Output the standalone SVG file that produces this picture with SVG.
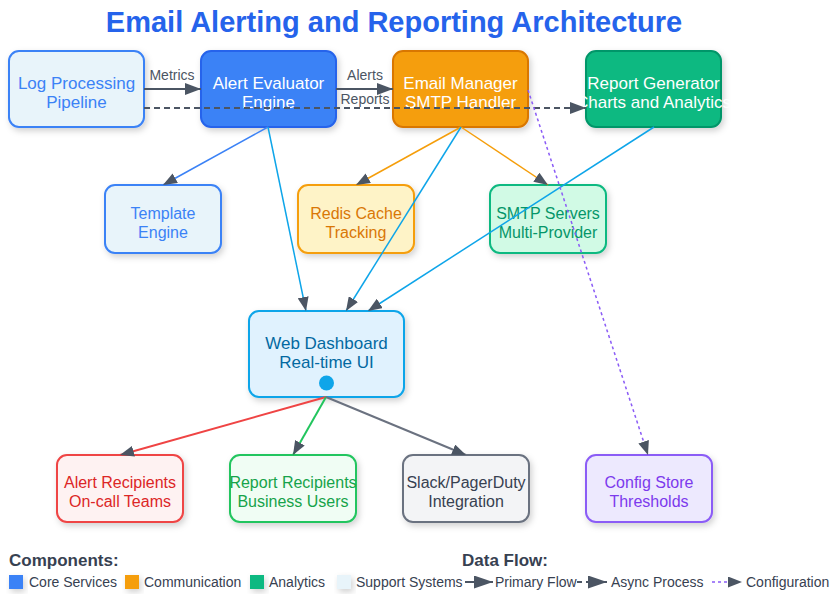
<svg xmlns="http://www.w3.org/2000/svg" width="835" height="604" viewBox="0 0 835 604">
<style>
text{font-family:"Liberation Sans",Arial,sans-serif}
.t{font-size:17px;text-anchor:middle}
.s{font-size:16px}
.lbl{font-size:14px;fill:#4b5563;text-anchor:middle}
.lg{font-size:14px;fill:#374151}
.lh{font-size:17px;font-weight:bold;fill:#374151}
.n{stroke-width:2}
</style>
<defs>
<filter id="sh" x="-20%" y="-20%" width="150%" height="150%"><feDropShadow dx="2" dy="3" stdDeviation="3" flood-color="#000" flood-opacity="0.18"/></filter>
<marker id="ah" markerUnits="userSpaceOnUse" markerWidth="16" markerHeight="12" viewBox="0 0 16 12" refX="16" refY="6" orient="auto"><path d="M0,0 L16,6 L0,12 z" fill="#4b5563"/></marker>
<marker id="ahs" markerUnits="userSpaceOnUse" markerWidth="14" markerHeight="11" viewBox="0 0 14 11" refX="14" refY="5.5" orient="auto"><path d="M0,0 L14,5.5 L0,11 z" fill="#4b5563"/></marker>
<marker id="ahl" markerUnits="userSpaceOnUse" markerWidth="19" markerHeight="13" viewBox="0 0 19 13" refX="19" refY="6.5" orient="auto"><path d="M0,0 L19,6.5 L0,13 z" fill="#4b5563"/></marker>
</defs>
<rect width="835" height="604" fill="#fff"/>
<text x="394" y="32" font-size="29" font-weight="bold" fill="#2563eb" text-anchor="middle">Email Alerting and Reporting Architecture</text>

<g id="log-pipeline"><rect x="9" y="51" width="135" height="76" rx="10" fill="#e8f4fa" stroke="#3b82f6" class="n" filter="url(#sh)"/><text class="t" x="76.5" y="89" fill="#3b82f6">Log Processing</text><text class="t" x="76.5" y="108" fill="#3b82f6">Pipeline</text></g>
<g id="alert-evaluator"><rect x="201" y="51" width="135" height="76" rx="10" fill="#3b82f6" stroke="#2563eb" class="n" filter="url(#sh)"/><text class="t" x="268.5" y="89" fill="#fff">Alert Evaluator</text><text class="t" x="268.5" y="108" fill="#fff">Engine</text></g>
<g id="email-manager"><rect x="393" y="51" width="135" height="76" rx="10" fill="#f59e0b" stroke="#d97706" class="n" filter="url(#sh)"/><text class="t" x="460.5" y="89" fill="#fff">Email Manager</text><text class="t" x="460.5" y="108" fill="#fff">SMTP Handler</text></g>
<g id="report-generator"><rect x="586" y="51" width="135" height="76" rx="10" fill="#10b981" stroke="#059669" class="n" filter="url(#sh)"/><text class="t" x="653.5" y="89" fill="#fff">Report Generator</text><text class="t" x="653.5" y="108" fill="#fff">Charts and Analytics</text></g>

<g id="template-engine"><rect x="105" y="185" width="116" height="68" rx="10" fill="#e8f4fa" stroke="#3b82f6" class="n" filter="url(#sh)"/><text class="t s" x="163" y="219" fill="#3b82f6">Template</text><text class="t s" x="163" y="238" fill="#3b82f6">Engine</text></g>
<g id="redis-cache"><rect x="298" y="185" width="116" height="68" rx="10" fill="#fef3c7" stroke="#f59e0b" class="n" filter="url(#sh)"/><text class="t s" x="356" y="219" fill="#d97706">Redis Cache</text><text class="t s" x="356" y="238" fill="#d97706">Tracking</text></g>
<g id="smtp-servers"><rect x="490" y="185" width="116" height="68" rx="10" fill="#d1fae5" stroke="#10b981" class="n" filter="url(#sh)"/><text class="t s" x="548" y="219" fill="#059669">SMTP Servers</text><text class="t s" x="548" y="238" fill="#059669">Multi-Provider</text></g>

<g id="web-dashboard"><rect x="249" y="311" width="155" height="86" rx="10" fill="#e0f2fe" stroke="#0ea5e9" class="n" filter="url(#sh)"/><text class="t" x="326.5" y="349" fill="#0369a1">Web Dashboard</text><text class="t" x="326.5" y="368" fill="#0369a1">Real-time UI</text><circle cx="326.5" cy="383" r="7.5" fill="#0ea5e9"/></g>

<g id="alert-recipients"><rect x="57" y="455" width="126" height="67" rx="10" fill="#fef2f2" stroke="#ef4444" class="n" filter="url(#sh)"/><text class="t s" x="120" y="488" fill="#dc2626">Alert Recipients</text><text class="t s" x="120" y="507" fill="#dc2626">On-call Teams</text></g>
<g id="report-recipients"><rect x="230" y="455" width="126" height="67" rx="10" fill="#f0fdf4" stroke="#22c55e" class="n" filter="url(#sh)"/><text class="t s" x="293" y="488" fill="#16a34a">Report Recipients</text><text class="t s" x="293" y="507" fill="#16a34a">Business Users</text></g>
<g id="slack-pagerduty"><rect x="403" y="455" width="126" height="67" rx="10" fill="#f3f4f6" stroke="#6b7280" class="n" filter="url(#sh)"/><text class="t s" x="466" y="488" fill="#374151">Slack/PagerDuty</text><text class="t s" x="466" y="507" fill="#374151">Integration</text></g>
<g id="config-store"><rect x="586" y="455" width="126" height="67" rx="10" fill="#ede9fe" stroke="#8b5cf6" class="n" filter="url(#sh)"/><text class="t s" x="649" y="488" fill="#7c3aed">Config Store</text><text class="t s" x="649" y="507" fill="#7c3aed">Thresholds</text></g>

<g id="connectors" fill="none">
<line x1="144" y1="89" x2="201" y2="89" stroke="#4b5563" stroke-width="2" marker-end="url(#ah)"/>
<line x1="336" y1="89" x2="393" y2="89" stroke="#4b5563" stroke-width="2" marker-end="url(#ah)"/>
<line x1="144" y1="108" x2="586" y2="108" stroke="#4b5563" stroke-width="2" stroke-dasharray="6,4" marker-end="url(#ah)"/>
<line x1="268" y1="127" x2="163" y2="185" stroke="#3b82f6" stroke-width="1.5" marker-end="url(#ahs)"/>
<line x1="268" y1="127" x2="306" y2="311" stroke="#0ea5e9" stroke-width="1.5" marker-end="url(#ahs)"/>
<line x1="461" y1="127" x2="356" y2="185" stroke="#f59e0b" stroke-width="1.5" marker-end="url(#ahs)"/>
<line x1="461" y1="127" x2="548" y2="185" stroke="#f59e0b" stroke-width="1.5" marker-end="url(#ahs)"/>
<line x1="461" y1="127" x2="346" y2="311" stroke="#0ea5e9" stroke-width="1.5" marker-end="url(#ahs)"/>
<line x1="654" y1="127" x2="368" y2="311" stroke="#0ea5e9" stroke-width="1.5" marker-end="url(#ahs)"/>
<line x1="528" y1="90" x2="648" y2="455" stroke="#8b5cf6" stroke-width="1.5" stroke-dasharray="3,3" marker-end="url(#ahs)"/>
<line x1="326" y1="397" x2="120" y2="455" stroke="#ef4444" stroke-width="2" marker-end="url(#ahs)"/>
<line x1="326" y1="397" x2="293" y2="455" stroke="#22c55e" stroke-width="2" marker-end="url(#ahs)"/>
<line x1="326" y1="397" x2="466" y2="455" stroke="#6b7280" stroke-width="2" marker-end="url(#ahs)"/>
<text class="lbl" x="172" y="80">Metrics</text>
<text class="lbl" x="365" y="80">Alerts</text>
<text class="lbl" x="365" y="104">Reports</text>
</g>

<g id="legend">
<text class="lh" x="9" y="566">Components:</text>
<rect x="9" y="575" width="14" height="14" fill="#3b82f6" filter="url(#sh)"/><text class="lg" x="29" y="587">Core Services</text>
<rect x="125" y="575" width="14" height="14" fill="#f59e0b" filter="url(#sh)"/><text class="lg" x="144" y="587">Communication</text>
<rect x="250" y="575" width="14" height="14" fill="#10b981" filter="url(#sh)"/><text class="lg" x="269" y="587">Analytics</text>
<rect x="337" y="575" width="14" height="14" fill="#e8f4fa" filter="url(#sh)"/><text class="lg" x="356" y="587">Support Systems</text>
<text class="lh" x="462" y="566">Data Flow:</text>
<line x1="465" y1="582" x2="493" y2="582" stroke="#4b5563" stroke-width="2" marker-end="url(#ahl)"/><text class="lg" x="495" y="587">Primary Flow</text>
<line x1="577" y1="582" x2="607" y2="582" stroke="#4b5563" stroke-width="2" stroke-dasharray="5,4" marker-end="url(#ahl)"/><text class="lg" x="611" y="587">Async Process</text>
<line x1="712" y1="582" x2="742" y2="582" stroke="#8b5cf6" stroke-width="1.5" stroke-dasharray="3,3" marker-end="url(#ahs)"/><text class="lg" x="746" y="587">Configuration</text>
</g>
</svg>
